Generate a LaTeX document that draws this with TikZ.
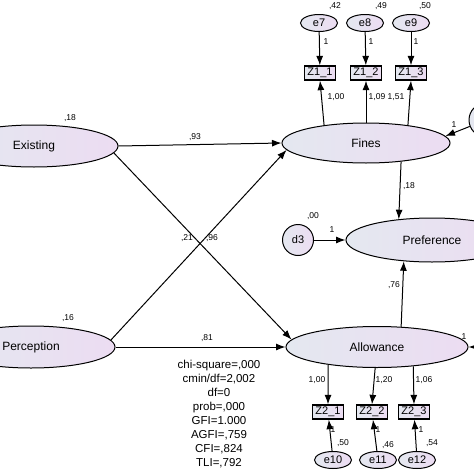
\documentclass[tikz,border=0pt]{standalone}
\usepackage{fontspec}
\setmainfont{Liberation Sans}
\usetikzlibrary{shapes.geometric,arrows.meta}
\definecolor{lvA}{HTML}{E4E8F0}
\definecolor{lvB}{HTML}{ECDCF2}
\tikzset{
	latent/.style={ellipse,draw,line width=1pt,left color=lvA,right color=lvB,inner sep=0pt,font=\fontsize{12}{14}\selectfont},
	err/.style={ellipse,draw,line width=1pt,left color=lvA,right color=lvB,minimum width=37pt,minimum height=17pt,inner sep=0pt,font=\fontsize{11}{13}\selectfont},
	ind/.style={rectangle,draw,line width=1.3pt,left color=lvA,right color=lvB,minimum width=31pt,minimum height=14pt,inner sep=1pt,font=\fontsize{11}{13}\selectfont},
	dist/.style={circle,draw,line width=1pt,left color=lvA,right color=lvB,minimum size=31pt,inner sep=0pt,font=\fontsize{11}{13}\selectfont},
	est/.style={font=\fontsize{8.5}{10}\selectfont,inner sep=0pt},
	reg/.style={-{Latex[length=9.5pt,width=7pt]},line width=1pt},
}

\begin{document}
\begin{tikzpicture}[x=1pt,y=-1pt]
	\useasboundingbox (0,0) rectangle (474,474);
	% latent variables
	\node[latent,minimum width=168pt,minimum height=42pt] (Ex) at (34,146) {Existing};
	\node[latent,minimum width=168pt,minimum height=42pt] (Pe) at (31,347) {Perception};
	\node[latent,minimum width=168pt,minimum height=40pt] (Fi) at (366,143) {Fines};
	\node[latent,minimum width=182pt,minimum height=41pt] (Al) at (377,347) {Allowance};
	\node[latent,minimum width=172pt,minimum height=44pt] (Pr) at (432,240) {Preference};
	\node[dist] (d3) at (298,240) {d3};
	\node[dist,minimum size=34pt] (d1) at (486,120) {};
	\node[dist,minimum size=34pt] (d2) at (496,347) {};
	% indicators of Fines
	\node[ind] (Z11) at (320,73) {Z1\_1};
	\node[ind] (Z12) at (366,73) {Z1\_2};
	\node[ind] (Z13) at (411,73) {Z1\_3};
	\node[err] (e7) at (319,23) {e7};
	\node[err] (e8) at (365,23) {e8};
	\node[err] (e9) at (411,23) {e9};
	% indicators of Allowance
	\node[ind] (Z21) at (328,412) {Z2\_1};
	\node[ind] (Z22) at (372,412) {Z2\_2};
	\node[ind] (Z23) at (414,412) {Z2\_3};
	\node[err] (e10) at (333,460) {e10};
	\node[err] (e11) at (378,460) {e11};
	\node[err] (e12) at (417,460) {e12};
	% paths
	\draw [reg] (Ex.east) -- (Fi.west);
	\draw [reg] (Ex.-5) -- (Al.175);
	\draw [reg] (Pe.5) -- (Fi.-175);
	\draw [reg] (Pe.east) -- (Al.west);
	\draw [reg] (Fi.-28) -- (Pr.148);
	\draw [reg] (Al.40) -- (Pr.217);
	\draw [reg] (d3) -- (Pr.west);
	\draw [reg] (d1) -- (Fi.5);
	\draw [reg] (d2) -- (Al.east);
	\draw [reg] (Fi.157) -- (Z11.south);
	\draw [reg] (Fi.north) -- (Z12.south);
	\draw [reg] (Fi.23) -- (Z13.south);
	\draw [reg] (e7) -- (Z11);
	\draw [reg] (e8) -- (Z12);
	\draw [reg] (e9) -- (Z13);
	\draw [reg] (Al.200) -- (Z21.north);
	\draw [reg] (Al.-95) -- (Z22.north);
	\draw [reg] (Al.-28) -- (Z23.north);
	\draw [reg] (e10) -- (Z21);
	\draw [reg] (e11) -- (Z22);
	\draw [reg] (e12) -- (Z23);
	% estimates
	\node[est] (v1) at (70,118) {,18};
	\node[est] (v2) at (68,318) {,16};
	\node[est] (b1) at (195,137) {,93};
	\node[est] (b2) at (187,238) {,21};
	\node[est] (b3) at (212,238) {,96};
	\node[est] (b4) at (207,338) {,81};
	\node[est] (b5) at (409,186) {,18};
	\node[est] (b6) at (394,285) {,76};
	\node[est] (v3) at (313,216) {,00};
	\node[est] (w3) at (332,230) {1};
	\node[est] (w1) at (454,125) {1};
	\node[est] (w2) at (464,337) {1};
	\node[est] (v7) at (335,6) {,42};
	\node[est] (v8) at (381,6) {,49};
	\node[est] (v9) at (425,6) {,50};
	\node[est] (f7) at (326,42) {1};
	\node[est] (f8) at (371,42) {1};
	\node[est] (f9) at (416,42) {1};
	\node[est] (l11) at (336,97) {1,00};
	\node[est] (l12) at (377,97) {1,09};
	\node[est] (l13) at (396,97) {1,51};
	\node[est] (l21) at (317,380) {1,00};
	\node[est] (l22) at (384,380) {1,20};
	\node[est] (l23) at (424,380) {1,06};
	\node[est] (f10) at (333,430) {1};
	\node[est] (f11) at (378,430) {1};
	\node[est] (f12) at (421,430) {1};
	\node[est] (v10) at (343,443) {,50};
	\node[est] (v11) at (388,445) {,46};
	\node[est] (v12) at (432,443) {,54};
	% fit
	\node[align=center,anchor=north,inner sep=0pt,font=\fontsize{11.5}{14}\selectfont] (fit) at (219,360)
		{chi-square=,000\\cmin/df=2,002\\df=0\\prob=,000\\GFI=1.000\\AGFI=,759\\CFI=,824\\TLI=,792};
\end{tikzpicture}
\end{document}
